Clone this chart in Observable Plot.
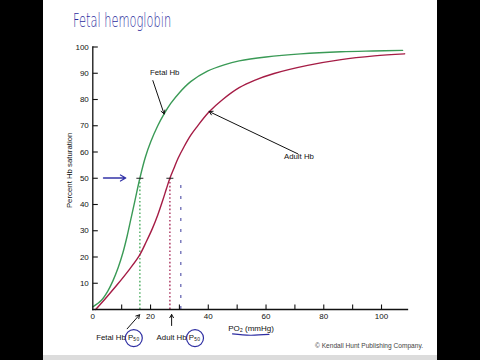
<!DOCTYPE html>
<html><head><meta charset="utf-8">
<script src="https://cdn.jsdelivr.net/npm/d3@7"></script>
<script src="https://cdn.jsdelivr.net/npm/@observablehq/plot@0.6"></script>
<style>
html,body{margin:0;padding:0;background:#000;width:480px;height:360px;overflow:hidden;}
#wrap{position:absolute;left:43px;top:0;width:394px;height:355px;background:#fff;}
#strip{position:absolute;left:43px;top:355px;width:394px;height:5px;background:#dcdcdc;}
#title{position:absolute;left:30px;top:11px;font-family:"DejaVu Sans",sans-serif;font-weight:200;font-size:19px;line-height:19px;color:#2d2d9e;transform:scaleX(0.6);transform-origin:0 0;white-space:nowrap;}
#chart{position:absolute;left:0;top:38px;}
</style></head><body>
<div id="wrap"><div id="title">Fetal hemoglobin</div><div id="chart"></div></div><div id="strip"></div>
<script>
// ---- data ----
const fetalPO2 = [0, 3, 5.2, 7, 8.8, 10.4, 11.9, 13.2, 14.6, 16.3, 18.2, 20.1, 22.5, 24.7, 27, 30, 33.9, 39.7, 45.5, 50.7, 60, 72, 86, 97, 107.3];
const fetalSat = [1, 3.5, 7, 11, 16, 21.5, 28, 34.5, 41.5, 50, 58, 64, 70, 74.5, 78.5, 82.6, 86.8, 90.8, 93.2, 94.7, 96.2, 97.4, 98.2, 98.5, 98.7];
const adultPO2 = [1, 4.4, 8.5, 12.5, 16.1, 18.6, 20.7, 22.5, 24.2, 25.5, 26.7, 28, 29.5, 31.6, 34, 36, 40.3, 45, 50.7, 56, 62.8, 74.4, 86, 97.5, 108];
const adultSat = [0, 4.2, 9.5, 15, 20.5, 26, 31, 36, 41.5, 46, 50, 53.5, 57.5, 62, 66.5, 69.5, 75.3, 80, 84.5, 87.3, 89.9, 93, 95.2, 96.6, 97.4];

const xTickValues = [10, 20, 30, 40, 50, 60, 70, 80, 90, 100];
const xTickLabels = [0, 20, 40, 60, 80, 100];
const yTickValues = [10, 20, 30, 40, 50, 60, 70, 80, 90, 100];

const p50Values = [16.3, 26.7];
const p50Colors = ["#62b774", "#b44a70"];
const handDashX = [30.5];

// curve labels
const curveLabels = ["Fetal Hb", "Adult Hb"];
const curveLabelX = [24.9, 71.4];
const curveLabelY = [90.3, 58.3];
const curveLabelAnchor = ["middle", "start"];

// annotation arrows (start -> end, in PO2 / saturation units)
const arrowX1 = [20.8, 71.0, 11.9, 27.3];
const arrowY1 = [87.2, 59.3, -7.35, -6.1];
const arrowX2 = [24.7, 40.3, 16.2, 27.3];
const arrowY2 = [74.5, 75.4, -2.0, -1.9];

// handwritten blue arrow at 50%
const blueArrowX1 = [3.7], blueArrowX2 = [11.4], blueArrowY = [50.1];

// P50 labels below axis
const p50Labels = ["Fetal Hb P₅₀", "Adult Hb P₅₀"];
const p50LabelX = [1.2, 22.1];
const p50LabelY = [-10.55, -10.55];
const circleX = [14.2, 35.4];
const circleY = [-10.9, -10.9];

// axis titles / credit
const xTitle = ["PO₂ (mmHg)"], xTitleX = [54.8], xTitleY = [-7.1];
const yTitle = ["Percent Hb saturation"], yTitleX = [-7.9], yTitleY = [53];
const underlineX = [48.4, 54.5, 61], underlineY = [-9.3, -9.8, -9.5];
const credit = ["© Kendall Hunt Publishing Company."], creditX = [114.4], creditY = [-14];

// ---- build ----
const fetal = fetalPO2.map((x, i) => ({x, y: fetalSat[i]}));
const adult = adultPO2.map((x, i) => ({x, y: adultSat[i]}));
const arrows = arrowX1.map((d, i) => ({x1: d, y1: arrowY1[i], x2: arrowX2[i], y2: arrowY2[i]}));
const labels = curveLabels.map((t, i) => ({t, x: curveLabelX[i], y: curveLabelY[i], a: curveLabelAnchor[i]}));
const p50 = p50Values.map((x, i) => ({x, c: p50Colors[i]}));
const underline = underlineX.map((x, i) => ({x, y: underlineY[i]}));

const rOf = size => Math.sqrt(size / Math.PI);
const tickUp = {draw(ctx, size) { const l = rOf(size); ctx.moveTo(0, 0); ctx.lineTo(0, -l); }};
const tickRight = {draw(ctx, size) { const l = rOf(size); ctx.moveTo(0, 0); ctx.lineTo(l, 0); }};
const tickH = {draw(ctx, size) { const l = rOf(size); ctx.moveTo(-l, 0); ctx.lineTo(l, 0); }};

const font = "Liberation Sans, Arial, DejaVu Sans, sans-serif";
const navy = "#2e2ea2";

const chart = Plot.plot({
  width: 394, height: 317,
  marginLeft: 49.3, marginRight: 30, marginTop: 8.5, marginBottom: 46,
  x: {domain: [0, 109], axis: null},
  y: {domain: [0, 100], axis: null},
  style: {fontFamily: font, fontSize: "8px", color: "#111", background: "white", overflow: "visible"},
  marks: [
    // dotted P50 drop lines
    Plot.ruleX(p50, {x: "x", y1: 0, y2: 50, stroke: "c", strokeWidth: 1.6, strokeDasharray: "1.6,2.2"}),
    Plot.ruleX(handDashX, {y1: 0, y2: 50, stroke: "#3b3b9c", strokeWidth: 1, strokeDasharray: "3,8"}),
    // curves
    Plot.line(fetal, {x: "x", y: "y", stroke: "#3a9a56", strokeWidth: 1.4, curve: "catmull-rom"}),
    Plot.line(adult, {x: "x", y: "y", stroke: "#a51c45", strokeWidth: 1.4, curve: "catmull-rom"}),
    // P50 markers
    Plot.dot(p50, {x: "x", y: 50, symbol: tickH, r: 3.5, stroke: "#222", fill: "none", strokeWidth: 1}),
    // axes
    Plot.frame({anchor: "left", stroke: "#111", strokeWidth: 1.3}),
    Plot.frame({anchor: "bottom", stroke: "#111", strokeWidth: 1.3}),
    Plot.dot(xTickValues, {x: d => d, y: 0, symbol: tickUp, r: 5, stroke: "#111", fill: "none", strokeWidth: 1.1}),
    Plot.dot(yTickValues, {x: 0, y: d => d, symbol: tickRight, r: 5, stroke: "#111", fill: "none", strokeWidth: 1.1}),
    Plot.axisX({ticks: xTickLabels, tickSize: 0, tickPadding: 4, label: null, fontSize: 8}),
    Plot.axisY({ticks: yTickValues, tickSize: 0, tickPadding: 4, label: null, fontSize: 8}),
    // titles
    Plot.text(yTitle, {x: yTitleX, y: yTitleY, text: d => d, rotate: -90, fontSize: 7.8, fill: "#111"}),
    Plot.text(xTitle, {x: xTitleX, y: xTitleY, text: d => d, fontSize: 8, fill: "#111"}),
    Plot.line(underline, {x: "x", y: "y", stroke: navy, strokeWidth: 1.2, curve: "natural"}),
    // curve labels + arrows
    Plot.text(labels, {x: "x", y: "y", text: "t", textAnchor: "a", fontSize: 7.8, fill: "#111"}),
    Plot.arrow(arrows, {x1: "x1", y1: "y1", x2: "x2", y2: "y2", stroke: "#111", strokeWidth: 1, headLength: 6}),
    Plot.arrow(blueArrowX1, {x1: d => d, x2: (d, i) => blueArrowX2[i], y1: (d, i) => blueArrowY[i], y2: (d, i) => blueArrowY[i], stroke: "#3434a8", strokeWidth: 1.3, headLength: 7}),
    // P50 labels below axis
    Plot.text(p50Labels, {x: (d, i) => p50LabelX[i], y: (d, i) => p50LabelY[i], text: d => d, textAnchor: "start", fontSize: 7.8, fill: "#111"}),
    Plot.dot(circleX, {x: d => d, y: (d, i) => circleY[i], r: 8.5, stroke: navy, fill: "none", strokeWidth: 1.2}),
    // credit
    Plot.text(credit, {x: creditX, y: creditY, text: d => d, textAnchor: "end", fontSize: 6.6, fill: "#444"})
  ]
});
document.getElementById("chart").appendChild(chart);
</script>
</body></html>
